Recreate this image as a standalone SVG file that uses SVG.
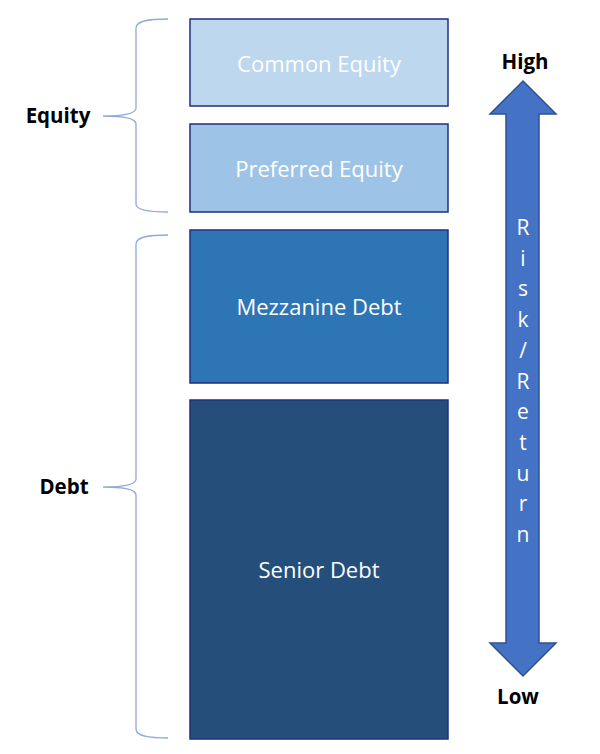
<svg xmlns="http://www.w3.org/2000/svg" width="600" height="754" viewBox="0 0 600 754">
<style>
.box{stroke:#1F2F80;stroke-width:1.5}
.bt{font-family:"Open Sans",sans-serif;font-size:22px;fill:#FFFFFF;text-anchor:middle}
.lbl{font-family:"Open Sans",sans-serif;font-size:20.5px;font-weight:bold;fill:#000000;text-anchor:middle}
.brace{fill:none;stroke:#8FAADC;stroke-width:1.3}
.rr{font-family:"Open Sans",sans-serif;font-size:21px;fill:#FFFFFF;text-anchor:middle}
</style>
<rect width="600" height="754" fill="#FFFFFF"/>
<g id="common-equity">
<rect class="box" x="190" y="19" width="258" height="87" fill="#BDD7EE"/>
<text class="bt" x="319" y="72">Common Equity</text>
</g>
<g id="preferred-equity">
<rect class="box" x="190" y="124" width="258" height="88" fill="#9DC3E6"/>
<text class="bt" x="319" y="177">Preferred Equity</text>
</g>
<g id="mezzanine-debt">
<rect class="box" x="190" y="230" width="258" height="153" fill="#2E75B6"/>
<text class="bt" x="319" y="315">Mezzanine Debt</text>
</g>
<g id="senior-debt">
<rect class="box" x="190" y="400" width="258" height="339" fill="#254F7A"/>
<text class="bt" x="319" y="578">Senior Debt</text>
</g>
<g id="equity-brace">
<path class="brace" d="M168,19 C148,19 136,21 136,28 L136,108 C136,114 120,116 103,116 C120,116 136,118 136,124 L136,204 C136,210 148,212 168,212"/>
<text class="lbl" x="58" y="123">Equity</text>
</g>
<g id="debt-brace">
<path class="brace" d="M168,235 C148,235 136,237 136,244 L136,479 C136,485 120,487 103,487 C120,487 136,489 136,495 L136,729 C136,736 148,738 168,738"/>
<text class="lbl" x="64" y="494">Debt</text>
</g>
<g id="risk-return-arrow">
<polygon points="523,81 556,114 539,114 539,643 556,643 523,676 490,643 506,643 506,114 490,114" fill="#4472C4" stroke="#2F528F" stroke-width="1.5"/>
<text class="rr" x="523" y="235">R</text>
<text class="rr" x="523" y="265.7">i</text>
<text class="rr" x="523" y="296.4">s</text>
<text class="rr" x="523" y="327.1">k</text>
<text class="rr" x="523" y="357.8">/</text>
<text class="rr" x="523" y="388.5">R</text>
<text class="rr" x="523" y="419.2">e</text>
<text class="rr" x="523" y="449.9">t</text>
<text class="rr" x="523" y="480.6">u</text>
<text class="rr" x="523" y="511.3">r</text>
<text class="rr" x="523" y="542">n</text>
</g>
<g id="high-label"><text class="lbl" x="525" y="69">High</text></g>
<g id="low-label"><text class="lbl" x="518" y="704">Low</text></g>
</svg>
